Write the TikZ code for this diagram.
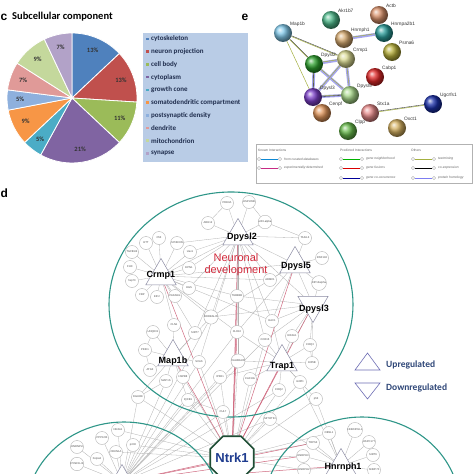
\documentclass[tikz,border=0pt]{standalone}
\usepackage{fontspec}
\setmainfont{Liberation Sans}
\newfontfamily\carlito{Carlito}
\usetikzlibrary{shapes.geometric}
\pgfdeclarelayer{bg}
\pgfdeclarelayer{paper}
\pgfsetlayers{paper,bg,main}
\definecolor{pcA}{HTML}{4F81BD}
\definecolor{pcB}{HTML}{C0504D}
\definecolor{pcC}{HTML}{9BBB59}
\definecolor{pcD}{HTML}{8064A2}
\definecolor{pcE}{HTML}{4BACC6}
\definecolor{pcF}{HTML}{F79646}
\definecolor{pcG}{HTML}{8EB0DD}
\definecolor{pcH}{HTML}{E09A98}
\definecolor{pcI}{HTML}{C4D89C}
\definecolor{pcJ}{HTML}{B2A2C8}
\definecolor{lgbg}{HTML}{B9CCE6}
\definecolor{lgtx}{HTML}{1F2D4D}
\definecolor{ringc}{HTML}{2E9688}
\definecolor{ntgreen}{HTML}{1E4D34}
\definecolor{ntblue}{HTML}{1F3C8F}
\definecolor{devred}{HTML}{D2283A}
\definecolor{edgered}{HTML}{C8506A}
\definecolor{legblue}{HTML}{2F4778}
\definecolor{tridraw}{HTML}{8A8AA2}
\definecolor{lavc}{HTML}{9C9CEE}
\definecolor{olvc}{HTML}{A4B040}
\definecolor{sMap}{HTML}{7FC7E8}
\definecolor{sAkr}{HTML}{4DB88A}
\definecolor{sActb}{HTML}{D8906A}
\definecolor{sHa}{HTML}{2A9D9A}
\definecolor{sHh}{HTML}{D4A86E}
\definecolor{sPsma}{HTML}{B8B03A}
\definecolor{sCrmp}{HTML}{D8D890}
\definecolor{sDp2}{HTML}{2EA02E}
\definecolor{sCabp}{HTML}{E02828}
\definecolor{sDp3}{HTML}{7B3FC8}
\definecolor{sDp5}{HTML}{A8D88A}
\definecolor{sCenpf}{HTML}{E0955A}
\definecolor{sStx}{HTML}{E58888}
\definecolor{sUgc}{HTML}{1A2FA8}
\definecolor{sClpp}{HTML}{66B84A}
\definecolor{sOxct}{HTML}{D4B060}
\begin{document}
\begin{tikzpicture}[x=1pt,y=-1pt,
 gn/.style={circle,draw=gray!60,fill=white,minimum size=13pt,inner sep=0.2pt,font=\fontsize{2.7}{3}\selectfont,text=black!70},
 tri/.style={regular polygon,regular polygon sides=3,draw=tridraw,fill=white,minimum size=35pt,inner sep=0pt,line width=0.5pt},
 tridn/.style={tri,shape border rotate=180},
 tlab/.style={font=\bfseries\fontsize{9}{9}\selectfont,text=black,inner sep=0.5pt},
 ge/.style={draw=gray!60,line width=0.3pt},
 re/.style={draw=edgered,line width=0.5pt,opacity=0.85},
 ring/.style={draw=ringc,line width=1.1pt},
 pct/.style={font=\carlito\bfseries\fontsize{6.5}{7}\selectfont,text=black!80,inner sep=0pt},
 lgsq/.style={minimum size=2.6pt,inner sep=0pt},
 lgtxt/.style={font=\carlito\bfseries\fontsize{7}{8}\selectfont,text=lgtx,inner sep=0pt,anchor=west},
 sball/.style={circle,minimum size=18pt,inner sep=0pt,shading=ball},
 slab/.style={font=\fontsize{4.8}{5}\selectfont,text=black!80,inner sep=0pt,anchor=west},
 lav/.style={draw=lavc,line width=2.8pt,opacity=0.9},
 olv/.style={draw=olvc,line width=0.5pt},
 blk/.style={draw=black!80,line width=0.35pt},
 lgball/.style={circle,draw=gray!70,fill=white,minimum size=3.2pt,inner sep=0pt,line width=0.25pt},
 lgsmall/.style={font=\fontsize{3.3}{3.6}\selectfont,text=black!60,inner sep=0pt,anchor=west},
 plab/.style={font=\bfseries\fontsize{12}{12}\selectfont,text=black,inner sep=0pt}
]
\useasboundingbox (0,0) rectangle (474,474);
\clip (0,0) rectangle (474,474);
\begin{pgfonlayer}{paper}
\fill[white] (0,0) rectangle (474,474);
\end{pgfonlayer}

% ---------------- panel c ----------------
\node[plab,anchor=west] (labc) at (0.5,17) {c};
\node[font=\carlito\bfseries\fontsize{10.5}{11}\selectfont,anchor=west,inner sep=0pt] (titc) at (12,17) {Subcellular component};
\begin{scope}[shift={(72,98)},y=1pt]
\foreach \s/\e/\c/\p [count=\i] in {90/43.2/pcA/13, 43.2/-3.6/pcB/13, -3.6/-43.2/pcC/11, -43.2/-118.8/pcD/21, -118.8/-136.8/pcE/5, -136.8/-169.2/pcF/9, -169.2/-187.2/pcG/5, -187.2/-212.4/pcH/7, -212.4/-244.8/pcI/9, -244.8/-270/pcJ/7}{
  \filldraw[fill=\c,draw=white,line width=0.8pt] (0,0) -- (\s:65) arc[start angle=\s,end angle=\e,radius=65] -- cycle;
  \node[pct] (pie\i) at ({(\s+\e)/2}:52) {\p\%};
}
\end{scope}
\fill[lgbg] (143,33) rectangle (248,162);
\foreach \t/\c [count=\i] in {cytoskeleton/pcA, neuron projection/pcB, cell body/pcC, cytoplasm/pcD, growth cone/pcE, somatodendritic compartment/pcF, postsynaptic density/pcG, dendrite/pcH, mitochondrion/pcI, synapse/pcJ}{
  \node[lgsq,fill=\c] (lm\i) at (147.5,{39+12.7*(\i-1)}) {};
  \node[lgtxt] (lt\i) at (151,{39+12.7*(\i-1)}) {\t};
}

% ---------------- panel e ----------------
\node[plab] (labe) at (245,17) {e};
\node[sball,ball color=sMap] (smap) at (283,33) {};
\node[sball,ball color=sAkr] (sakr) at (331,20) {};
\node[sball,ball color=sActb] (sactb) at (379,15) {};
\node[sball,ball color=sHa] (sha) at (384,33) {};
\node[sball,ball color=sHh] (shh) at (344,39) {};
\node[sball,ball color=sPsma] (spsma) at (392,52) {};
\node[sball,ball color=sCrmp] (scrmp) at (346,59) {};
\node[sball,ball color=sDp2] (sdp2) at (314,64) {};
\node[sball,ball color=sCabp] (scabp) at (375,77) {};
\node[sball,ball color=sDp3] (sdp3) at (313,97) {};
\node[sball,ball color=sDp5] (sdp5) at (350,95) {};
\node[sball,ball color=sCenpf] (scenpf) at (322,113) {};
\node[sball,ball color=sStx] (sstx) at (370,113) {};
\node[sball,ball color=sUgc] (sugc) at (433,104) {};
\node[sball,ball color=sClpp] (sclpp) at (348,131) {};
\node[sball,ball color=sOxct] (soxct) at (397,128) {};
\foreach \n/\t in {smap/Map1b, sakr/Akr1b7, sactb/Actb, sha/Hnrnpa2b1, shh/Hnrnph1, spsma/Psma6, scrmp/Crmp1, sdp2/Dpysl2, scabp/Cabp1, sdp3/Dpysl3, sdp5/Dpysl5, scenpf/Cenpf, sstx/Stx1a, sugc/Ugcrfs1, sclpp/Clpp, soxct/Oxct1}{
  \node[slab] (l\n) at ([xshift=7pt,yshift=9pt]\n.center) {\t};
}
\begin{pgfonlayer}{bg}
\draw[olv] (smap) -- (scrmp); \draw[blk,transform canvas={yshift=0.8pt}] (smap) -- (scrmp);
\draw[olv] (smap) -- (sdp2); \draw[blk,transform canvas={xshift=0.8pt}] (smap) -- (sdp2);
\draw[olv] (smap) -- (sdp3);
\foreach \a/\b in {sdp2/scrmp, sdp2/sdp3, sdp2/sdp5, scrmp/sdp3, scrmp/sdp5, sdp3/sdp5, shh/sha}{
  \draw[lav] (\a) -- (\b);
  \draw[olv,transform canvas={yshift=0.6pt}] (\a) -- (\b);
}
\draw[blk] (sdp2) -- (sdp3);
\draw[blk] (sdp3) -- (sdp5);
\draw[olv] (sstx) -- (sugc); \draw[blk,transform canvas={yshift=0.7pt}] (sstx) -- (sugc);
\end{pgfonlayer}
% STRING legend
\draw[gray!60,fill=white,line width=0.4pt] (256,144) rectangle (472,183);
\node[lgsmall] (kh) at (258,150) {Known Interactions};
\node[lgsmall] (ph) at (340,150) {Predicted Interactions};
\node[lgsmall] (oh) at (411,150) {Others};
\foreach \x/\y/\c/\t [count=\i] in {259/159/cyan!70!blue/from curated databases, 259/168/magenta!80!black/experimentally determined, 341/159/green!70!black/gene neighborhood, 341/168/red!85!black/gene fusions, 341/178/blue!60!black/gene co-occurrence, 413/159/olvc/textmining, 413/168/black/co-expression, 413/178/lavc!80!blue/protein homology}{
  \node[lgball] (ia\i) at (\x,\y) {};
  \node[lgball] (ib\i) at (\x+21,\y) {};
  \draw[\c,line width=0.8pt] (ia\i) -- (ib\i);
  \node[lgsmall,font=\itshape\fontsize{3.3}{3.6}\selectfont] (it\i) at (\x+25,\y) {\t};
}

% ---------------- panel d ----------------
\node[plab,anchor=west] (labd) at (0.5,193) {d};
\draw[ring] (231,304.5) ellipse [x radius=122,y radius=112.5];
\draw[ring] (124,512) ellipse [x radius=98,y radius=90];
\draw[ring] (362,508) ellipse [x radius=98,y radius=91];

\foreach \n/\x/\y/\t in {pde/227/203/PDE3A, hsp105/249/202/HSP105B, arh/208/223/ARH12, eif3/265/222/eIF3-alpha, c53/159/238/C53, htt/146/243/HTT, synexin/177/243/SYNEXIN, tgfb/132/252/TGFB1I4, uev/190/252/Uev1, fhc/130/267/FHC, epn/189/268/EPN1, hsp70/132/281/hsp70, fbp/142/295/FBP, eif2/157/297/EIF2, pafah/175/296/PAFAHG, hgs/189/288/HGS, tafa/305/238/TAFA-3, rnf/322/258/RNF192, armc/270/280/ARMC1, dip/319/283/DIP13alpha, tubb/237/296/TUBB2B, borealin/211/317/BOREALIN, cln/174/325/CLN1, unq/153/332/UNQ601, sirt7/195/333/SIRT7, cld/237/332/CLD10, hax/272/321/HAX1, cox15/265/340/COX15, eif4a/292/336/EIF4A1, coq3/310/345/COQ3, pink/145/350/PINK1, sca6/199/362/SCA6, calbrain/238/361/CALBRAIN, eif5b/312/363/EIF5B, atg3/150/370/ATG3, map1s/166/381/MAP1S, hspb8/183/377/HSPB8, ip3r1/220/377/IP3R1, cachg/250/379/CACHG, g3pd/300/382/G3PD, coq2/279/390/COQ2, dguok/138/397/DGUOK, iqcb/188/400/IQCB1, p53/316/399/p53, cul7/223/412/CUL7, mitotin/270/419/MITOTIN, nr4a1/118/430/NR4A1, ppp1cb/102/438/PPP1CB, hnrnpu/77/447/HNRNPU, p300/133/445/p300, cdkn/116/452/CDKN1A, hnrpa3/97/459/hnrpa3, dync/77/464/DYNC1LI2, obsl/329/433/OBSL1, hnrnpul/355/430/HNRNPUL1, hspc/369/442/HSPC177, trps/313/443/TRPS3, sirt6/373/455/SIRT6, hnrph3/303/456/HNRPH3, snrp/374/470/SNRP70, hnrph2/304/470/HNRPH2}{
  \node[gn] (\n) at (\x,\y) {\t};
}
\node[tri] (crmp1) at (161,276) {};
\node[tri] (dpysl2) at (238,236) {};
\node[tri] (dpysl5) at (295,264) {};
\node[tridn] (dpysl3) at (313,305) {};
\node[tri] (map1b) at (173,357) {};
\node[tri] (trap1) at (282,362) {};
\node[tri] (hnrnph1) at (341,466) {};
\node[tri] (lltri) at (122,482) {};
\node[tlab] (crmp1l) at (161,275) {Crmp1};
\node[tlab] (dpysl2l) at (242,237) {Dpysl2};
\node[tlab] (dpysl5l) at (296,266) {Dpysl5};
\node[tlab] (dpysl3l) at (314,309) {Dpysl3};
\node[tlab] (map1bl) at (173,361) {Map1b};
\node[tlab] (trap1l) at (282,366) {Trap1};
\node[tlab] (hnrnph1l) at (343,467) {Hnrnph1};
\node[font=\fontsize{11}{12}\selectfont,text=devred,align=center,inner sep=0pt] (neudev) at (236,264.5) {Neuronal\\development};
\node[regular polygon,regular polygon sides=8,minimum size=47pt,inner sep=0pt,draw=ntgreen,line width=1.6pt,fill=white] (ntrk1) at (232,458) {};
\node[font=\bfseries\fontsize{13}{13}\selectfont,text=ntblue,inner sep=0pt] (ntrk1l) at (232,458) {Ntrk1};

\begin{pgfonlayer}{bg}
\foreach \b in {c53,htt,synexin,tgfb,uev,fhc,epn,hsp70,fbp,eif2,pafah,hgs,dpysl2,tubb,borealin,armc,cld,hax,sirt7,dpysl5,cln}{\draw[ge] (crmp1) -- (\b);}
\foreach \b in {pde,hsp105,arh,eif3,tafa,uev,armc,tubb,borealin,cld,calbrain,hax,cox15,dpysl5,dpysl3,epn,hgs,sca6,sirt7,synexin}{\draw[ge] (dpysl2) -- (\b);}
\foreach \b in {tafa,rnf,dip,armc,hax,borealin,dpysl3,cld}{\draw[ge] (dpysl5) -- (\b);}
\foreach \b in {dip,eif4a,coq3,hax,cox15,tubb,borealin,trap1,eif5b}{\draw[ge] (dpysl3) -- (\b);}
\foreach \b in {cln,unq,pink,atg3,map1s,hspb8,sca6,sirt7,dguok,iqcb,borealin}{\draw[ge] (map1b) -- (\b);}
\foreach \b in {cox15,eif4a,coq3,eif5b,g3pd,coq2,cachg,calbrain,hax,p53,ip3r1,cld}{\draw[ge] (trap1) -- (\b);}
\foreach \b in {cul7,iqcb,dguok,p53,mitotin,coq2,cachg,ip3r1,hspb8,calbrain,obsl,trps,hnrph3,hnrph2,p300,cdkn,nr4a1,g3pd,cox15,sca6}{\draw[ge] (ntrk1) -- (\b);}
\foreach \b in {nr4a1,ppp1cb,hnrnpu,p300,cdkn,hnrpa3,dync,dguok,iqcb,cul7,map1s,sca6,ip3r1,calbrain,cox15,mitotin,coq2,borealin,cld}{\draw[ge] (lltri) -- (\b);}
\foreach \b in {obsl,hnrnpul,hspc,trps,sirt6,hnrph3,snrp,hnrph2,mitotin,p53,g3pd}{\draw[ge] (hnrnph1) -- (\b);}
\foreach \a/\b in {pink/unq,atg3/pink,cul7/iqcb,dguok/map1s,tafa/eif3,arh/pde,hsp105/eif3,coq3/eif5b}{\draw[ge] (\a) -- (\b);}
\foreach \b in {crmp1,dpysl2,dpysl5,dpysl3,map1b,trap1,tubb,cld,lltri}{\draw[re] (ntrk1) -- (\b);}
\foreach \b in {hnrph3,trps,hnrnph1}{\draw[re] (lltri) -- (\b);}
\end{pgfonlayer}

% legend up / down
\draw[tridraw!80!blue,line width=0.6pt,fill=white] (367.5,353) -- (380,370) -- (355,370) -- cycle;
\draw[tridraw!80!blue,line width=0.6pt,fill=white] (355,383) -- (380,383) -- (367.5,399) -- cycle;
\node[font=\carlito\bfseries\fontsize{9.5}{10}\selectfont,text=legblue,anchor=west,inner sep=0pt] (upl) at (386,365) {Upregulated};
\node[font=\carlito\bfseries\fontsize{9.5}{10}\selectfont,text=legblue,anchor=west,inner sep=0pt] (dnl) at (386,388) {Downregulated};
\end{tikzpicture}
\end{document}
